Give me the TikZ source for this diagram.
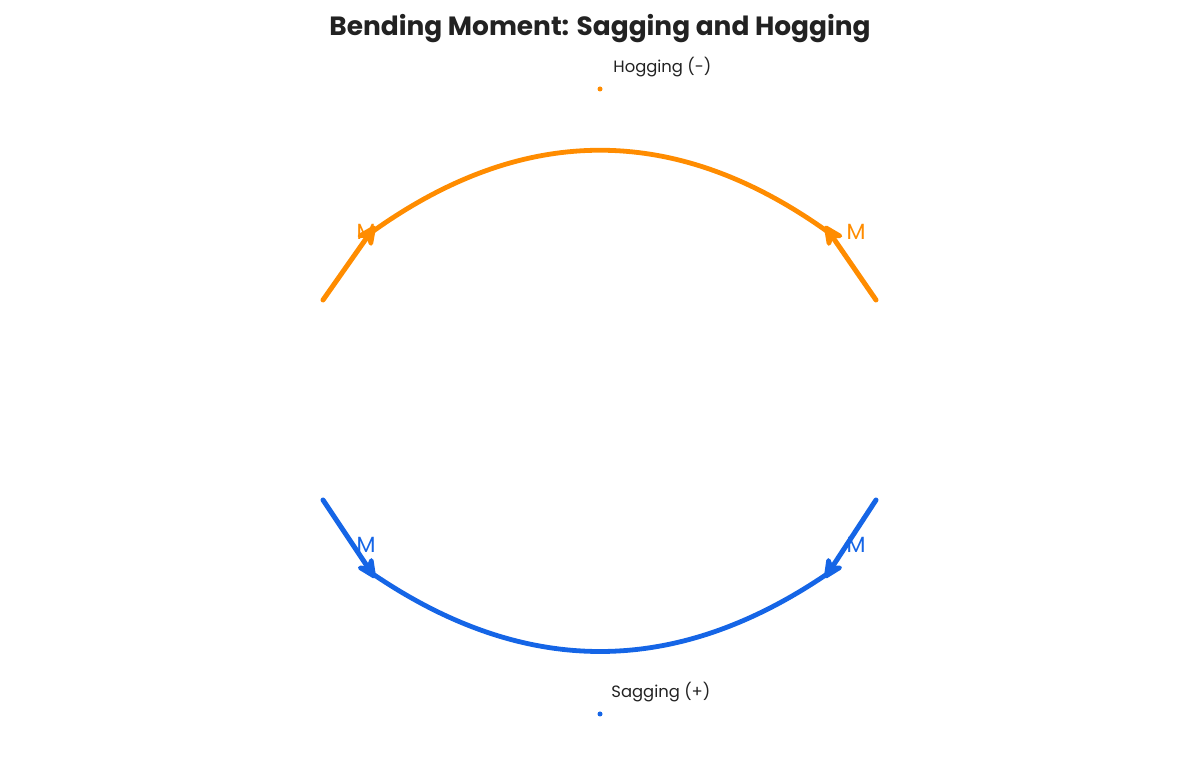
\documentclass[tikz,border=0pt]{standalone}
\usepackage{fontspec}
\setmainfont{Poppins}
\usetikzlibrary{positioning,arrows.meta}
\definecolor{hogcol}{HTML}{FF8C00}
\definecolor{sagcol}{HTML}{1565E6}
\definecolor{titlecol}{HTML}{222222}

\begin{document}
\begin{tikzpicture}[x=0.5pt,y=-0.5pt,
  beam/.style={line width=2.4pt},
  moment/.style={line width=2.5pt,line cap=round,-{Stealth[length=13pt,width=12pt,round]}},
  mlabel/.style={font=\fontsize{11}{12}\selectfont,inner sep=0pt},
  caption/.style={font=\fontsize{8.2}{10}\selectfont,text=titlecol,inner sep=0pt,anchor=west}]
\useasboundingbox (0,0) rectangle (1200,763);

\node[font=\bfseries\fontsize{13.2}{16}\selectfont,text=titlecol] (title) at (600,29) {Bending Moment: Sagging and Hogging};

% hogging
\fill[hogcol] (600,89) circle (2.5) coordinate (hogdot);
\node[caption] (hog) at (613,67) {Hogging (-)};
\coordinate (hogA) at (372,232);
\coordinate (hogB) at (828,232);
\node (hogL) at (375,226) {};
\node (hogR) at (825,226) {};
\node (hogLs) at (323,300) {};
\node (hogRs) at (876,300) {};
\draw[beam,hogcol] (hogA) .. controls (524,123) and (676,123) .. (hogB);
\draw[moment,hogcol] (hogLs.center) -- (hogL.center);
\draw[moment,hogcol] (hogRs.center) -- (hogR.center);
\node[mlabel,text=hogcol] (mhL) at (366,232) {M};
\node[mlabel,text=hogcol] (mhR) at (856,232) {M};

% sagging
\fill[sagcol] (600,714) circle (2.5) coordinate (sagdot);
\node[caption] (sag) at (611,692) {Sagging (+)};
\coordinate (sagA) at (370,572);
\coordinate (sagB) at (830,572);
\node (sagL) at (375,578) {};
\node (sagR) at (825,578) {};
\node (sagLs) at (323,500) {};
\node (sagRs) at (876,500) {};
\draw[beam,sagcol] (sagA) .. controls (524,678) and (676,678) .. (sagB);
\draw[moment,sagcol] (sagLs.center) -- (sagL.center);
\draw[moment,sagcol] (sagRs.center) -- (sagR.center);
\node[mlabel,text=sagcol] (msL) at (366,545) {M};
\node[mlabel,text=sagcol] (msR) at (856,545) {M};

\end{tikzpicture}
\end{document}
